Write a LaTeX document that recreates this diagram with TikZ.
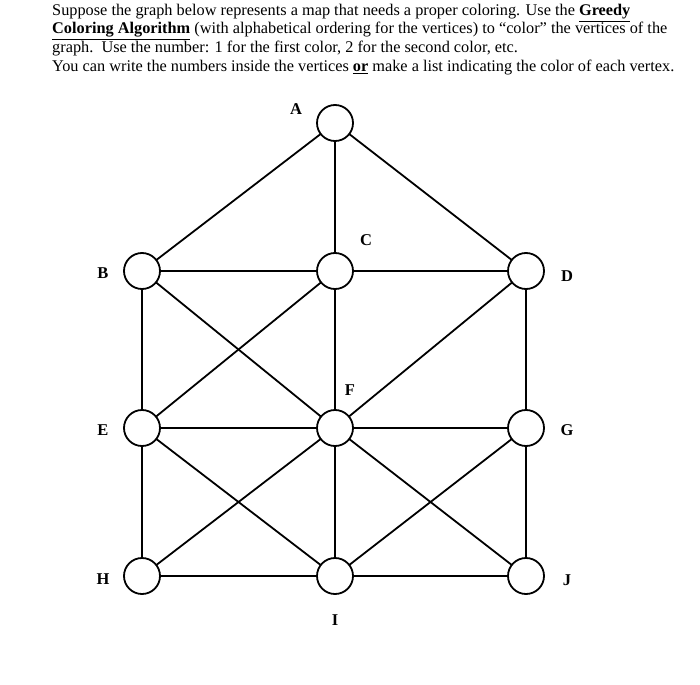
\documentclass[tikz,border=0pt]{standalone}
\usepackage{fontspec}
\setmainfont{Liberation Serif}
\begin{document}
\begin{tikzpicture}[x=1pt,y=-1pt,
  vtx/.style={circle,draw,line width=1.8pt,minimum size=36pt,inner sep=0pt,fill=white},
  edge/.style={line width=1.8pt},
  lbl/.style={font=\fontsize{16.5}{18}\selectfont\bfseries},
  txt/.style={anchor=west,inner sep=0pt,font=\fontsize{16.3}{18}\selectfont}]
\useasboundingbox (0,0) rectangle (700,684);
\node[txt] (t1) at (52,13) {Suppose the graph below represents a map that needs a proper coloring. Use the \textbf{\underline{Greedy}}};
\node[txt] (t2) at (52,31) {\textbf{\underline{Coloring Algorithm}} (with alphabetical ordering for the vertices) to “color” the vertices of the};
\node[txt] (t3) at (52,49) {graph.\ \ Use the number: 1 for the first color, 2 for the second color, etc.};
\node[txt] (t4) at (52,68) {You can write the numbers inside the vertices \textbf{\underline{or}} make a list indicating the color of each vertex.};
\coordinate (pA) at (335,123);
\coordinate (pB) at (142,271); \coordinate (pC) at (335,271); \coordinate (pD) at (526,271);
\coordinate (pE) at (142,428); \coordinate (pF) at (335,428); \coordinate (pG) at (526,428);
\coordinate (pH) at (142,576); \coordinate (pI) at (335,576); \coordinate (pJ) at (526,576);
\foreach \a/\b in {A/B,A/C,A/D,B/C,C/D,B/E,B/F,C/E,C/F,D/F,D/G,E/F,F/G,E/H,E/I,F/H,F/I,F/J,G/I,G/J,H/I,I/J}
  \draw[edge] (p\a) -- (p\b);
\foreach \v in {A,B,C,D,E,F,G,H,I,J} \node[vtx] (\v) at (p\v) {};
\node[lbl] (lA) at (296,109) {A};
\node[lbl] (lB) at (103,273) {B};
\node[lbl] (lC) at (366,240) {C};
\node[lbl] (lD) at (567,276) {D};
\node[lbl] (lE) at (103,430) {E};
\node[lbl] (lF) at (350,390) {F};
\node[lbl] (lG) at (567,430) {G};
\node[lbl] (lH) at (103,579) {H};
\node[lbl] (lI) at (335,620) {I};
\node[lbl] (lJ) at (567,580) {J};
\end{tikzpicture}
\end{document}
